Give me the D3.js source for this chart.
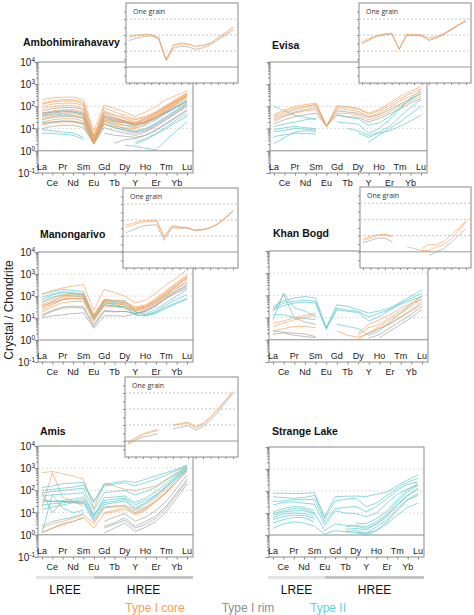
<!DOCTYPE html>
<html>
<head>
<meta charset="utf-8">
<script src="https://cdn.jsdelivr.net/npm/d3@7"></script>
<style>
  body { margin: 0; background: #fff; }
  svg { display: block; font-family: "Liberation Sans", Arial, sans-serif; }
</style>
</head>
<body>
<div id="chart"></div>
<script>
const _ = null;
const elements = ['La', 'Ce', 'Pr', 'Nd', 'Sm', 'Eu', 'Gd', 'Tb', 'Dy', 'Y', 'Ho', 'Er', 'Tm', 'Yb', 'Lu'];
const yTicks = [0.1, 1, 10, 100, 1000, 10000];
const yTickExp = ['-1', '0', '1', '2', '3', '4'];
const legendLabels = ['Type I core', 'Type I rim', 'Type II'];

// Ambohimirahavavy
const amboCore = [
  [200, 240, 260, 260, 200, 8, 117, 80, 56, 35, 56, 100, 200, 320, 500],
  [126, 158, 178, 178, 126, 5, 63, 40, 28, 20, 28, 50, 100, 178, 316],
  [50, 63, 71, 71, 56, 2.5, 32, 22, 20, 16, 22, 40, 80, 158, 280],
  [20, 25, 28, 28, 22, 2.2, 20, 16, 14, 12.6, 20, 35, 71, 141, 316],
  [35, 45, 50, 50, 40, 3.2, 28, 22, 20, 18, 28, 50, 100, 200, 400],
  [14, 18, 20, 20, 16, 2, 16, 12.6, 11, 10, 16, 32, 63, 126, 250],
  [80, 100, 112, 112, 80, 3.2, 40, 28, 22, 18, 25, 45, 89, 178, 355],
  [141, 178, 200, 200, 158, 4, 89, 56, 40, 28, 35, 56, 100, 178, 316],
  [100, 126, 141, 141, 112, 4.5, 56, 40, 32, 25, 32, 56, 112, 224, 398],
  [28, 35, 40, 40, 32, 2.8, 25, 20, 18, 14, 22, 40, 79, 158, 316]
];
const amboRim = [
  [63, 80, 89, 89, 71, 2.8, 50, 32, 22, 16, 20, 32, 56, 100, 178],
  [25, 32, 35, 35, 28, 2.2, 22, 14, 10, 8, 10, 18, 35, 71, 141],
  [10, 12.6, 14, 14, 11, 2, 11, 8, 6.3, 5, 7, 12.6, 25, 50, 100],
  [_, _, _, _, _, _, _, 2.2, 3.2, 3.5, 5, 9, 18, 35, 71],
  [40, 50, 56, 56, 40, 2.5, 35, 25, 20, 14, 18, 28, 50, 89, 158],
  [_, _, _, _, _, _, 6.3, 5, 4.5, 4, 5, 8, 16, 32, 63],
  [16, 20, 22, 22, 18, 2.2, 16, 11, 8, 6.3, 8, 14, 28, 56, 112],
  [45, 56, 63, 63, 50, 3, 40, 28, 22, 16, 20, 32, 56, 100, 178]
];
const amboType2 = [
  [35, 40, 45, 40, 32, 2.5, 25, 18, 14, 11, 14, 25, 50, 100, 200],
  [18, 20, 22, 20, 16, 2.2, 16, 11, 9, 7, 9, 16, 32, 63, 126],
  [6.3, 6, 5.6, 5, 3.2, _, _, _, _, _, _, _, _, _, _],
  [9, 8, 7, 6.3, 4, _, _, _, _, _, _, _, _, _, _],
  [_, _, _, _, _, _, _, _, _, 2, 3.2, 5.6, 10, 20, 35],
  [_, _, _, _, _, _, _, _, 1.8, 1.6, 1.3, 1.1, 3, 8, 20],
  [_, _, _, _, _, _, _, _, _, 2.5, 3.5, 6, 12, 25, 45],
  [50, 56, 63, 56, 45, 3, 32, 22, 18, 14, 18, 32, 63, 126, 251]
];
const amboGrainCore = [
  [91, 100, 110, 110, 63, 3, 25, 32, 28, 18.6, 22, 30, 71, 141, 316],
  [71, 89, 100, 100, 71, 2.8, 22, 28, 26, 20, 24, 32, 63, 126, 282]
];
const amboGrainRim = [
  [45, 63, 80, 89, 56, 2.5, 15, 20, 18, 12.6, 16, 25, 50, 100, 200]
];

// Evisa
const evisaCore = [
  [42, 71, 100, 120, 141, 13, 107, 100, 83, 50, 71, 141, 282, 479, 794],
  [30, 50, 71, 89, 117, 13, 79, 71, 60, 35, 50, 89, 178, 282, 479],
  [21, 35, 50, 63, 71, 13, 50, 48, 42, 25, 35, 56, 112, 178, 282],
  [35, 60, 83, 100, 126, 12.6, 95, 89, 76, 45, 63, 112, 224, 380, 631]
];
const evisaRim = [
  [25, 40, 56, 71, 89, 12.6, 63, 56, 50, 32, 42, 71, 126, 224, 355],
  [16, 25, 35, 42, 50, 12.6, 40, 35, 32, 20, 28, 45, 79, 141, 224]
];
const evisaType2 = [
  [100, 63, 40, 32, 25, _, _, _, _, _, _, _, _, _, _],
  [7.2, 8.3, 10, 9.5, 8.7, _, _, _, _, _, _, _, _, _, _],
  [4.4, 5.2, 6.3, 6, 5.6, _, _, _, _, _, _, _, _, _, _],
  [2.1, 4, 7, 8, 7.6, _, _, _, _, _, _, _, _, _, _],
  [12.6, 16, 20, 25, 30, _, _, _, _, _, _, _, _, _, _],
  [9, 11, 12.6, 11, 10, _, _, _, _, _, _, _, _, _, _],
  [_, _, _, _, _, _, 20, 18, 16, 6.3, 10, 25, 79, 224, 562],
  [_, _, _, _, _, _, _, 10, 8, 5, 7, 12.6, 35, 89, 200],
  [_, _, _, _, _, _, _, _, _, 2.5, 5, 10, 20, 45, 100],
  [_, _, _, _, _, _, _, _, 6.3, 4, 6.3, 8, 12.6, 22, 40],
  [_, _, _, _, _, _, 42, 32, 28, 14, 18, 35, 89, 200, 400]
];
const evisaGrainCore = [
  [28, 50, 91, 112, 126, 13, 100, 100, 100, 50, 71, 115, 224, 417, 794],
  [38, 63, 91, 112, 132, 13, 110, 110, 100, 66, 79, 126, 240, 447, 794]
];
const evisaGrainRim = [
  [30, 52, 83, 100, 115, 13, 91, 91, 87, 46, 63, 105, 209, 398, 724]
];

// Manongarivo
const manoCore = [
  [115, 178, 234, 282, 331, 23, 200, 141, 100, 48, 63, 138, 331, 661, 1585],
  [23, 40, 68, 76, 79, 10, 48, 45, 40, 23, 32, 56, 126, 282, 661],
  [32, 56, 89, 100, 100, 11, 63, 56, 50, 28, 35, 71, 158, 355, 794],
  [18, 32, 50, 56, 56, 7, 35, 32, 28, 20, 25, 45, 100, 224, 501],
  [50, 79, 112, 126, 126, 14, 71, 63, 56, 32, 40, 79, 178, 398, 891],
  [40, 63, 100, 112, 112, 12.6, 63, 56, 50, 28, 35, 63, 141, 316, 708],
  [28, 45, 71, 79, 79, 9, 50, 45, 40, 25, 32, 56, 126, 282, 631]
];
const manoRim = [
  [12, 20, 28, 30, 28, 4, 20, 19, 20, 16, 20, 35, 79, 141, 234],
  [10, 12.6, 14, 16, 17, 3.4, 12.6, 12.6, 12, 16, 22, 40, 89, 178, 316],
  [35, 50, 71, 79, 71, 9, 40, 35, 32, 22, 28, 50, 112, 224, 398],
  [14, 22, 32, 35, 32, 5, 22, 20, 20, 16, 20, 35, 79, 158, 282]
];
const manoType2 = [
  [126, 158, 200, 178, 158, 12, 68, 63, 63, 20, 14, 20, 40, 71, 115],
  [71, 112, 141, 126, 112, 10, 50, 40, 32, 14, 12.6, 18, 32, 50, 79],
  [89, 126, 158, 141, 126, 11, 56, 50, 45, 18, 16, 25, 50, 100, 200],
  [56, 89, 112, 100, 89, 8, 40, 35, 32, 14, 12.6, 16, 28, 45, 71]
];
const manoGrainCore = [
  [48, 66, 87, 95, 100, 9, 44, 38, 33, 23, 25, 33, 56, 141, 372],
  [35, 52, 71, 79, 83, 8, 40, 35, 32, 22, 24, 32, 56, 132, 372]
];
const manoGrainRim = [
  [16, 25, 40, 47, 50, 5.5, 32, 30, 32, 23, 25, 33, 56, 132, 355]
];

// Khan Bogd
const khanCore = [
  [2.5, 3.2, 4, 4, 3.5, _, _, _, _, _, _, _, _, _, _],
  [4, 5.6, 8, 10, 13.5, _, _, _, _, _, _, _, _, _, _],
  [5.6, 7, 10, 12.6, 16, _, _, _, _, _, _, _, _, _, _],
  [_, _, _, _, _, _, _, _, 1.7, 3.5, 5, 10, 20, 40, 91],
  [_, _, _, _, _, _, _, _, 2, 5, 8, 13.5, 27, 45, 63],
  [_, _, _, _, _, _, 2.5, 1.6, 1.3, 2, 3.2, 5, 10, 20, 40],
  [_, _, _, _, _, _, _, _, 1.1, 2, 4, 8, 16, 32, 71]
];
const khanRim = [
  [2.5, 2.2, 2, 1.8, 1.4, _, _, _, _, _, _, _, _, _, _],
  [19, 107, 10, 6.3, 5, _, _, _, _, _, _, _, _, _, _],
  [1.8, 2, 1.6, 1.4, 1.26, _, _, _, _, _, _, _, _, _, _],
  [_, _, _, _, _, _, _, _, _, 1.2, 1.7, 3.5, 7, 14, 32],
  [_, _, _, _, _, _, _, _, _, _, 1.2, 2.5, 5, 10, 23],
  [_, _, _, _, _, _, _, _, _, 2, 3.2, 5.6, 11, 22, 50]
];
const khanType2 = [
  [32, 56, 76, 89, 76, 3.5, 38, 32, 23, 16, 20, 27, 50, 95, 178],
  [26, 45, 54, 60, 54, 3.2, 27, 22, 19, 11, 16, 23, 45, 76, 126],
  [22, 35, 45, 50, 45, 3, 23, 19, 17, 7, 11, 23, 40, 60, 91],
  [13.5, 13.5, 10, 9, 8.1, _, _, _, _, _, _, _, _, _, _],
  [8, 126, 27, 20, 11, _, _, _, _, _, _, _, _, _, _],
  [_, _, _, _, _, _, 5, 4, 3.2, 1.6, 2.5, 6.3, 16, 40, 100]
];
const khanGrainCore = [
  [5, 7, 10.5, 11, 8.3, _, 2, 1.6, 1.2, 1.2, 2, 2.8, 6.3, 20, 71],
  [6.3, 9, 11, 12, 9.5, _, _, _, 1.6, 2.8, 2.8, 4.5, 11, 28, 79]
];
const khanGrainRim = [
  [3.5, 5, 7, 7, 4, _, _, _, _, 0.6, 1, 1.6, 4, 10, 28]
];

// Amis
const amisCore = [
  [631, 708, 562, 447, 316, 16, 200, 158, 112, 100, 126, 158, 316, 631, 1259],
  [16, 631, 50, 32, 20, _, _, _, _, _, _, _, _, _, _],
  [1.26, 2, 2.8, 4, 6.3, 2, 9, 11, 14, 9, 14, 35, 89, 251, 794],
  [2, 3.2, 4, 5.6, 8, 3.2, 16, 18, 22, 12.6, 18, 45, 112, 316, 891],
  [_, _, _, _, _, _, 10, 12.6, 18, 8, 12.6, 32, 79, 251, 794]
];
const amisRim = [
  [_, _, _, _, _, _, 2.4, 3.5, 5.8, 2.4, 4, 7, 20, 79, 316],
  [_, _, _, _, _, _, 1.2, 2, 3.4, 1.4, 2.2, 4, 11, 45, 191],
  [_, _, _, _, _, _, 4, 6.3, 9, 4, 6.3, 12.6, 32, 126, 501],
  [1.26, 2, 3.2, 4, 5.6, _, _, _, _, _, _, _, _, _, _],
  [79, 10, 32, 28, 25, _, _, _, _, _, _, _, _, _, _],
  [32, 32, 32, 32, 28, 4, 18, 20, 20, 10, 16, 32, 79, 251, 708],
  [_, _, _, _, _, _, 2, 3, 4.5, 2, 3, 5.6, 16, 63, 251]
];
const amisType2 = [
  [135, 158, 200, 214, 229, 33, 191, 224, 269, 229, 316, 457, 631, 891, 1413],
  [100, 112, 126, 141, 178, 28, 158, 191, 224, 158, 224, 316, 501, 794, 1259],
  [56, 63, 68, 71, 79, 7, 47, 50, 56, 28, 45, 89, 200, 501, 1096],
  [14, 18, 22, 28, 33, 5, 23, 28, 33, 14, 25, 56, 141, 398, 891],
  [2.5, 4, 5, 6.3, 9, _, _, _, _, _, _, _, _, _, _],
  [1.26, 63, 16, 10, 12.6, _, _, _, _, _, _, _, _, _, _],
  [40, 32, 35, 40, 50, 8, 35, 40, 45, 22, 35, 63, 141, 355, 891],
  [79, 89, 100, 112, 126, 12.6, 79, 89, 100, 63, 89, 141, 282, 562, 1122],
  [22, 25, 28, 32, 40, 6.3, 28, 32, 40, 16, 28, 56, 158, 447, 1000]
];
const amisGrainCore = [
  [0.8, 1.6, 2.8, 4, 5.2, _, 9.3, 11, 13.5, 6.6, 11, 28, 93, 355, 1259],
  [0.63, 1.4, 2.5, 3.5, 4.5, _, 10, 12.6, 15, 8, 12.6, 32, 100, 355, 1122]
];
const amisGrainRim = [
  [0.7, 1.1, 1.8, 2.2, 2.8, _, 5.9, 7, 9.3, 4.8, 8, 20, 63, 251, 891]
];

// Strange Lake
const strangeType2 = [
  [79, 79, 76, 79, 83, 6.8, 55, 58, 59, 56, 71, 89, 178, 316, 537],
  [55, 50, 47, 50, 63, 5.6, 35, 42, 47, 19.5, 28, 63, 141, 251, 380],
  [33, 36, 40, 40, 42, 4, 16, 18, 20, 11.5, 20, 45, 112, 200, 263],
  [23, 30, 32, 28, 25, 2.8, 12.6, 10, 9.5, 6.8, 10, 28, 71, 126, 186],
  [9.5, 12.6, 16, 15, 10, 1.6, 3.2, 2.8, 2.5, 2, 3.2, 8, 25, 63, 126],
  [8, 11, 12.6, 12.6, 9, _, _, _, _, _, _, _, _, _, _],
  [6.3, 9, 10, 9.5, 7, _, _, _, _, _, _, _, _, _, _],
  [5, 7, 8, 7.6, 5.6, _, _, _, _, _, _, _, _, _, _],
  [3.5, 5, 6.3, 6, 4, _, _, _, _, _, _, _, _, _, _],
  [11, 16, 20, 18, 12.6, _, _, _, _, _, _, _, _, _, _],
  [2, 3.2, 4, 3.5, 2.5, 1.1, 1.6, 1.4, 1.3, 1.2, 1.6, 4, 12.6, 40, 79],
  [_, _, _, _, _, _, _, 2.4, 2.8, 2.4, 4, 9.5, 32, 89, 186],
  [_, _, _, _, _, _, _, 1.4, 1.6, 1.2, 2.4, 4.8, 16, 40, 63],
  [_, _, _, _, _, _, _, 1.8, 2, 1.7, 3.2, 6.8, 22, 63, 132],
  [_, _, _, _, _, _, _, _, 3.5, 3.2, 5.6, 12.6, 40, 112, 224],
  [_, _, _, _, _, _, _, _, 1.26, 1, 1.6, 3.2, 8, 18, 28]
];

const width = 474, height = 615;
const colors = { core: '#f5a25c', rim: '#9e9e9e', type2: '#55c6cc' };

const svg = d3.select('#chart').append('svg')
  .attr('width', width)
  .attr('height', height);

const panels = [
  { name: 'Ambohimirahavavy', x0: 38, x1: 193, y0: 62, y1: 173, labels: true, tx: 23, ty: 46,
    data: { rim: amboRim, type2: amboType2, core: amboCore },
    inset: { x0: 126, x1: 238, y0: 3, y1: 83, data: { rim: amboGrainRim, core: amboGrainCore } } },
  { name: 'Evisa', x0: 270, x1: 427, y0: 62, y1: 173, labels: false, tx: 272, ty: 49,
    data: { rim: evisaRim, type2: evisaType2, core: evisaCore },
    inset: { x0: 359, x1: 471, y0: 3, y1: 83, data: { rim: evisaGrainRim, core: evisaGrainCore } } },
  { name: 'Manongarivo', x0: 38, x1: 193, y0: 252, y1: 362, labels: true, tx: 40, ty: 238,
    data: { rim: manoRim, type2: manoType2, core: manoCore },
    inset: { x0: 123, x1: 238, y0: 188, y1: 268, data: { rim: manoGrainRim, core: manoGrainCore } } },
  { name: 'Khan Bogd', x0: 269, x1: 428, y0: 251, y1: 362, labels: false, tx: 273, ty: 237,
    data: { rim: khanRim, type2: khanType2, core: khanCore },
    inset: { x0: 360, x1: 471, y0: 187, y1: 268, data: { rim: khanGrainRim, core: khanGrainCore } } },
  { name: 'Amis', x0: 38, x1: 193, y0: 446, y1: 557, labels: true, tx: 40, ty: 435,
    data: { rim: amisRim, core: amisCore, type2: amisType2 },
    inset: { x0: 125, x1: 238, y0: 377, y1: 457, data: { rim: amisGrainRim, core: amisGrainCore } } },
  { name: 'Strange Lake', x0: 269, x1: 424, y0: 447, y1: 557, labels: false, tx: 272, ty: 435,
    data: { type2: strangeType2 } }
];

function drawLines(g, rows, kind, x, y, w) {
  const line = d3.line()
    .defined(d => d[1] != null)
    .x(d => x(d[0]))
    .y(d => y(d[1]));
  g.selectAll(null)
    .data(rows)
    .enter()
    .append('path')
    .attr('d', r => line(r.map((v, i) => [elements[i], v])))
    .attr('fill', 'none')
    .attr('stroke', colors[kind])
    .attr('stroke-width', w)
    .attr('stroke-opacity', 0.8);
}

function drawMain(p) {
  const g = svg.append('g');
  const x = d3.scalePoint().domain(elements).range([p.x0 + 4, p.x1 - 6]);
  const y = d3.scaleLog().domain([0.1, 1e4]).range([p.y1, p.y0]);

  g.append('rect')
    .attr('x', p.x0).attr('y', p.y0)
    .attr('width', p.x1 - p.x0).attr('height', p.y1 - p.y0)
    .attr('fill', '#fff');

  g.selectAll('.grid')
    .data([10, 100, 1000])
    .enter()
    .append('line')
    .attr('x1', p.x0).attr('x2', p.x1)
    .attr('y1', d => y(d)).attr('y2', d => y(d))
    .attr('stroke', '#dcdcdc')
    .attr('stroke-dasharray', '2,2');
  g.append('line')
    .attr('x1', p.x0).attr('x2', p.x1)
    .attr('y1', y(1)).attr('y2', y(1))
    .attr('stroke', '#8a8a8a');

  Object.keys(p.data).forEach(k => drawLines(g, p.data[k], k, x, y, 0.85));

  g.append('rect')
    .attr('x', p.x0).attr('y', p.y0)
    .attr('width', p.x1 - p.x0).attr('height', p.y1 - p.y0)
    .attr('fill', 'none')
    .attr('stroke', '#8a8a8a');

  const minor = g.append('g')
    .attr('transform', `translate(${p.x0}, 0)`)
    .call(d3.axisLeft(y).tickSize(2).tickFormat(''));
  const major = g.append('g')
    .attr('transform', `translate(${p.x0}, 0)`)
    .call(d3.axisLeft(y).tickValues(yTicks).tickSize(3.5).tickFormat(''));
  const bottom = g.append('g')
    .attr('transform', `translate(0, ${p.y1})`)
    .call(d3.axisBottom(x).tickSize(2.5).tickFormat(''));
  [minor, major, bottom].forEach(a => {
    a.select('.domain').remove();
    a.selectAll('line').attr('stroke', '#8a8a8a');
  });

  if (p.labels) {
    const t = g.selectAll('.ylab')
      .data(yTicks)
      .enter()
      .append('text')
      .attr('x', p.x0 - 3)
      .attr('y', d => y(d) + 4)
      .attr('text-anchor', 'end')
      .attr('font-size', '10px')
      .attr('fill', '#222');
    t.append('tspan').text('10');
    t.append('tspan')
      .attr('dy', -4)
      .attr('font-size', '6.5px')
      .text((d, i) => yTickExp[i]);
  }

  g.selectAll('.xlab')
    .data(elements)
    .enter()
    .append('text')
    .attr('x', d => x(d))
    .attr('y', (d, i) => i % 2 === 0 ? p.y1 - 3 : p.y1 + 13)
    .attr('text-anchor', 'middle')
    .attr('font-size', '9px')
    .attr('fill', '#222')
    .text(d => d);

  g.append('text')
    .attr('x', p.tx).attr('y', p.ty)
    .attr('font-size', '10.5px')
    .attr('font-weight', 'bold')
    .attr('fill', '#111')
    .text(p.name);
}

function drawInset(q) {
  const g = svg.append('g');
  const x = d3.scalePoint().domain(elements).range([q.x0 + 3, q.x1 - 5]);
  const y = d3.scaleLog().domain([0.1, 1e4]).range([q.y1, q.y0]);

  g.append('rect')
    .attr('x', q.x0).attr('y', q.y0)
    .attr('width', q.x1 - q.x0).attr('height', q.y1 - q.y0)
    .attr('fill', '#fff')
    .attr('stroke', '#8a8a8a');

  g.selectAll('.grid')
    .data([10, 100, 1000])
    .enter()
    .append('line')
    .attr('x1', q.x0).attr('x2', q.x1)
    .attr('y1', d => y(d)).attr('y2', d => y(d))
    .attr('stroke', '#c4c4c4')
    .attr('stroke-dasharray', '2,2');
  g.append('line')
    .attr('x1', q.x0).attr('x2', q.x1)
    .attr('y1', y(1)).attr('y2', y(1))
    .attr('stroke', '#9a9a9a');

  Object.keys(q.data).forEach(k => drawLines(g, q.data[k], k, x, y, 0.8));

  const left = g.append('g')
    .attr('transform', `translate(${q.x0}, 0)`)
    .call(d3.axisLeft(y).tickValues([0.3, 1, 3, 10, 30, 100, 300, 1000, 3000]).tickSize(2).tickFormat(''));
  const bottom = g.append('g')
    .attr('transform', `translate(0, ${q.y1})`)
    .call(d3.axisBottom(x).tickSize(2).tickFormat(''));
  [left, bottom].forEach(a => {
    a.select('.domain').remove();
    a.selectAll('line').attr('stroke', '#8a8a8a');
  });

  g.append('text')
    .attr('x', q.x0 + 7).attr('y', q.y0 + 11)
    .attr('font-family', '"Open Sans", sans-serif')
    .attr('font-size', '7px')
    .attr('fill', '#333')
    .text('One grain');
}

panels.forEach(drawMain);
panels.filter(p => p.inset).forEach(p => drawInset(p.inset));

svg.append('text')
  .attr('transform', 'translate(13, 310) rotate(-90)')
  .attr('text-anchor', 'middle')
  .attr('font-size', '12px')
  .attr('fill', '#222')
  .text('Crystal / Chondrite');

// LREE / HREE bars
[{ x0: 36, xm: 94, x1: 193 }, { x0: 268, xm: 325, x1: 424 }].forEach(b => {
  svg.append('rect').attr('x', b.x0).attr('y', 576).attr('width', b.xm - b.x0).attr('height', 3).attr('fill', '#e4e4e4');
  svg.append('rect').attr('x', b.xm).attr('y', 576).attr('width', b.x1 - b.xm).attr('height', 3).attr('fill', '#c4c4c4');
  svg.append('text').attr('x', (b.x0 + b.xm) / 2).attr('y', 594)
    .attr('text-anchor', 'middle').attr('font-size', '12px').attr('fill', '#111').text('LREE');
  svg.append('text').attr('x', (b.xm + b.x1) / 2).attr('y', 594)
    .attr('text-anchor', 'middle').attr('font-size', '12px').attr('fill', '#111').text('HREE');
});

const legendX = [155, 248, 328];
const legendColors = ['#f5a04f', '#919191', '#62cfd8'];
svg.selectAll('.legend')
  .data(legendLabels)
  .enter()
  .append('text')
  .attr('x', (d, i) => legendX[i])
  .attr('y', 612)
  .attr('text-anchor', 'middle')
  .attr('font-size', '12px')
  .attr('fill', (d, i) => legendColors[i])
  .text(d => d);
</script>
</body>
</html>
